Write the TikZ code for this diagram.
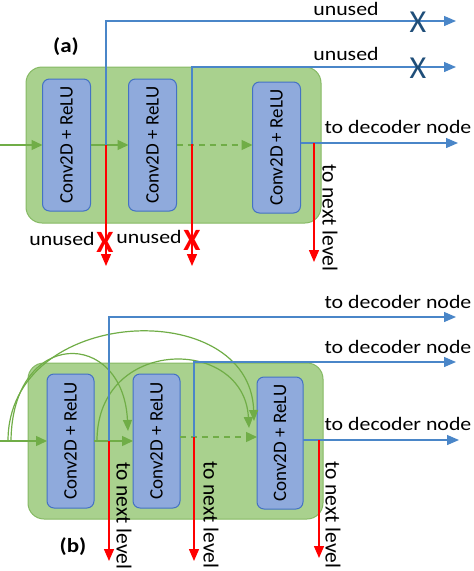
\documentclass[tikz,border=0pt]{standalone}
\usepackage{fontspec}
\setmainfont{Carlito}
\newfontfamily\lab{Carlito}[FakeStretch=1.15]
\usetikzlibrary{arrows.meta}
\definecolor{gfill}{HTML}{A9D18E}
\definecolor{gline}{HTML}{70AD47}
\definecolor{bfill}{HTML}{8FAADC}
\definecolor{bdraw}{HTML}{4472C4}
\definecolor{bline}{HTML}{4A86C8}
\definecolor{xblue}{HTML}{1F4E79}
\definecolor{rline}{HTML}{FF0000}
\begin{document}
\begin{tikzpicture}[x=1pt,y=-1pt,
  panel/.style={draw=gline!85!white, line width=1pt, fill=gfill, rounded corners=16pt, outer sep=0pt, inner sep=0pt},
  cbox/.style={draw=bdraw, line width=1pt, fill=bfill, rounded corners=7pt, minimum width=48pt, minimum height=132pt, outer sep=0pt, inner sep=0pt},
  ctext/.style={rotate=90, inner sep=0pt, font=\fontsize{19}{21}\selectfont},
  lbl/.style={inner sep=0pt, font=\lab\fontsize{19}{21}\selectfont},
  vlbl/.style={rotate=-90, inner sep=0pt, font=\fontsize{21.5}{24}\selectfont},
  ttl/.style={inner sep=0pt, font=\lab\bfseries\fontsize{20}{22}\selectfont},
  xb/.style={inner sep=0pt, text=xblue, font=\fontsize{32}{34}\selectfont},
  xr/.style={inner sep=0pt, text=rline, font=\bfseries\fontsize{31}{33}\selectfont},
  garrow/.style={draw=gline, line width=1.4pt, -{Triangle[length=11pt,width=10pt]}},
  garc/.style={draw=gline, line width=1.2pt, -{Triangle[length=11pt,width=9pt]}},
  barrow/.style={draw=bline, line width=1.3pt, -{Triangle[length=12pt,width=10pt]}},
  rarrow/.style={draw=rline, line width=1.4pt, -{Triangle[length=12pt,width=10pt]}},
]
\useasboundingbox (0,0) rectangle (474,571);

% ================= panel (a) =================
\node[panel, minimum width=295pt, minimum height=156pt] (pa) at (173.5,145) {};
\node[cbox] (a1) at (66.5,145) {};
\node[cbox] (a2) at (152.5,145) {};
\node[cbox, minimum height=131pt] (a3) at (276.5,147.5) {};
\node[ctext] (a1t) at (a1.center) {Conv2D + ReLU};
\node[ctext] (a2t) at (a2.center) {Conv2D + ReLU};
\node[ctext] (a3t) at (a3.center) {Conv2D + ReLU};
\node[ttl] (ta) at (66,47) {(a)};

\coordinate (ina) at (0,145);
\draw[garrow] (ina) -- (a1.west);
\draw[garrow] (a1.east) -- (a2.west);
\draw[garrow, dashed, dash pattern=on 6pt off 5pt] (a2.east) -- (a2.east -| a3.west);

\coordinate (ja1) at (106,145);
\coordinate (ja2) at (192,144);
\coordinate (ua1) at (456,21);
\coordinate (ua2) at (456,67);
\draw[barrow] (ja1) |- (ua1);
\draw[barrow] (ja2) |- (ua2);
\node[xb] (xa1) at (418,22) {X};
\node[xb] (xa2) at (418,68) {X};
\node[lbl] (lua1) at (346,9) {unused};
\node[lbl] (lua2) at (346,54) {unused};

\coordinate (ao) at (458,143);
\draw[barrow] (a3.east |- ao) -- (ao);
\node[lbl] (lda) at (398,127) {to decoder node};

\coordinate (ra1) at (106,266);
\coordinate (ra2) at (192,266);
\coordinate (ja3) at (314,143);
\coordinate (ra3) at (314,262);
\draw[rarrow] (ja1) -- (ra1);
\draw[rarrow] (ja2) -- (ra2);
\draw[rarrow] (ja3) -- (ra3);
\node[xr] (xr1) at (105,242) {X};
\node[xr] (xr2) at (192,240) {X};
\node[lbl] (lur1) at (62,239) {unused};
\node[lbl] (lur2) at (149,237) {unused};
\node[vlbl] (lna) at (330,218) {to next level};

% ================= panel (b) =================
\node[panel, minimum width=295pt, minimum height=156pt] (pb) at (175.5,441) {};
\node[cbox, minimum width=47pt, minimum height=134pt] (b1) at (70.5,441) {};
\node[cbox, minimum width=47pt, minimum height=134pt] (b2) at (156.5,441) {};
\node[cbox, minimum width=46pt, minimum height=132pt] (b3) at (280,443) {};
\node[ctext] (b1t) at (b1.center) {Conv2D + ReLU};
\node[ctext] (b2t) at (b2.center) {Conv2D + ReLU};
\node[ctext] (b3t) at (b3.center) {Conv2D + ReLU};
\node[ttl] (tb) at (73,547) {(b)};

\coordinate (inb) at (0,441);
\draw[garrow] (inb) -- (b1.west);
\draw[garrow] (b1.east) -- (b2.west);
\draw[garrow, dashed, dash pattern=on 6pt off 5pt] (b2.east |- 0,437) -- (b3.west |- 0,437);

\coordinate (s1) at (8,441);
\coordinate (s2) at (11,441);
\coordinate (s3) at (97,441);
\coordinate (e1) at (254,421);
\coordinate (e2) at (128,431);
\coordinate (e3) at (249,428);
\draw[garc] (s1) .. controls (8,305) and (250,295) .. (e1);
\draw[garc] (s2) .. controls (12,328) and (123,328) .. (e2);
\draw[garc] (s3) .. controls (97,336) and (244,336) .. (e3);

\coordinate (jb1) at (109,441);
\coordinate (jb2) at (194,437);
\coordinate (ub1) at (456,317);
\coordinate (ub2) at (456,362);
\draw[barrow] (jb1) |- (ub1);
\draw[barrow] (jb2) |- (ub2);
\node[lbl] (ldb1) at (398,302) {to decoder node};
\node[lbl] (ldb2) at (398,347) {to decoder node};

\coordinate (bo) at (459,440);
\draw[barrow] (b3.east |- bo) -- (bo);
\node[lbl] (ldb3) at (398,424) {to decoder node};

\coordinate (rb1) at (109,561);
\coordinate (rb2) at (194,561);
\coordinate (jb3) at (319,440);
\coordinate (rb3) at (319,558);
\draw[rarrow] (jb1) -- (rb1);
\draw[rarrow] (jb2) -- (rb2);
\draw[rarrow] (jb3) -- (rb3);
\node[vlbl] (lnb1) at (124,516) {to next level};
\node[vlbl] (lnb2) at (211,515) {to next level};
\node[vlbl] (lnb3) at (333,515) {to next level};
\end{tikzpicture}
\end{document}
